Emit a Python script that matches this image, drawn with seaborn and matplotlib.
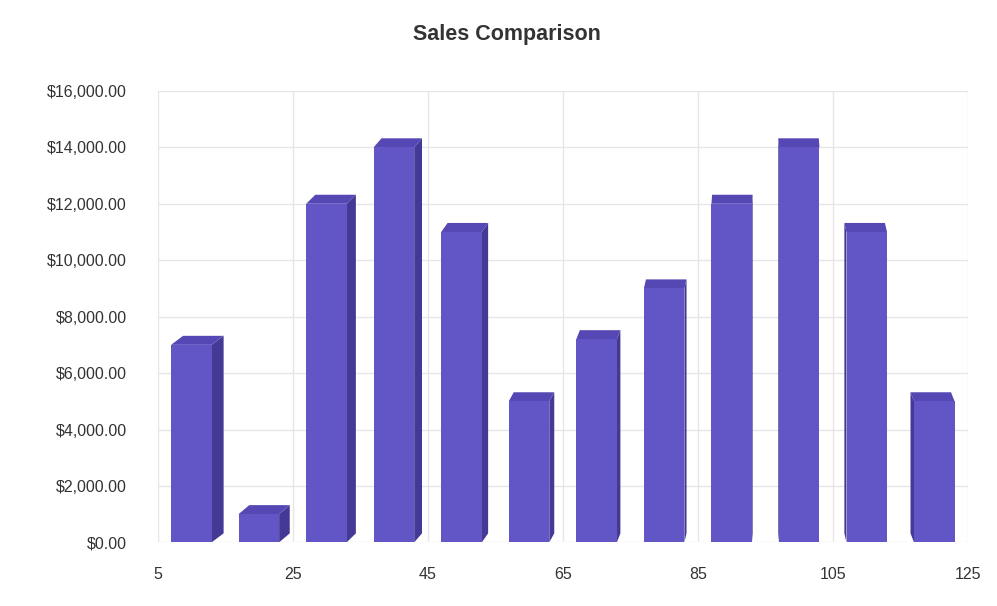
import numpy as np
import pandas as pd
import seaborn as sns
import matplotlib.pyplot as plt
from matplotlib.patches import Polygon
from matplotlib.ticker import FuncFormatter

# データ
positions = [10, 20, 30, 40, 50, 60, 70, 80, 90, 100, 110, 120]
sales = [7000, 1000, 12000, 14000, 11000, 5000, 7200, 9000, 12000, 14000, 11000, 5000]
x_ticks = [5, 25, 45, 65, 85, 105, 125]
y_ticks = list(range(0, 16001, 2000))

df = pd.DataFrame({"x": positions, "sales": sales})

sns.set_theme(style="white")
plt.rcParams['font.family'] = ['Liberation Sans', 'DejaVu Sans']

fig = plt.figure(figsize=(9.97, 6.06), dpi=100)
ax = fig.add_axes([0.158, 0.105, 0.813, 0.745])

# 色の設定
front = "#6256c6"
side = "#443a96"
top = "#5548b4"

sns.barplot(data=df, x="x", y="sales", native_scale=True, width=0.6,
            color=front, saturation=1, linewidth=0, ax=ax, zorder=3)

# 疑似3D: 側面と上面
vp = 95
depth_y = 320
for p in list(ax.patches):
    x0 = p.get_x()
    w = p.get_width()
    h = p.get_height()
    xc = x0 + w / 2
    dx = (vp - xc) * 0.021
    edge = x0 + w if dx > 0 else x0
    ax.add_patch(Polygon([(edge, 0), (edge + dx, depth_y), (edge + dx, h + depth_y), (edge, h)],
                         closed=True, facecolor=side, edgecolor="none", zorder=2))
    ax.add_patch(Polygon([(x0, h), (x0 + dx, h + depth_y), (x0 + w + dx, h + depth_y), (x0 + w, h)],
                         closed=True, facecolor=top, edgecolor="none", zorder=2))

ax.set_xlim(5, 125)
ax.set_ylim(0, 16000)
ax.set_xticks(x_ticks)
ax.set_yticks(y_ticks)
ax.yaxis.set_major_formatter(FuncFormatter(lambda v, _: f"${v:,.2f}"))
ax.grid(True, color="#e6e6e6", linewidth=1, zorder=0)
ax.set_axisbelow(True)
for s in ax.spines.values():
    s.set_visible(False)
ax.tick_params(axis="both", labelsize=11.5, colors="#333333", length=0)
ax.tick_params(axis="y", pad=22)
ax.tick_params(axis="x", pad=18)
ax.set_xlabel("")
ax.set_ylabel("")

fig.suptitle("Sales Comparison", x=0.508, y=0.96, fontsize=15.5, fontweight="bold", color="#333333")

fig.savefig("out.png", dpi=100)
